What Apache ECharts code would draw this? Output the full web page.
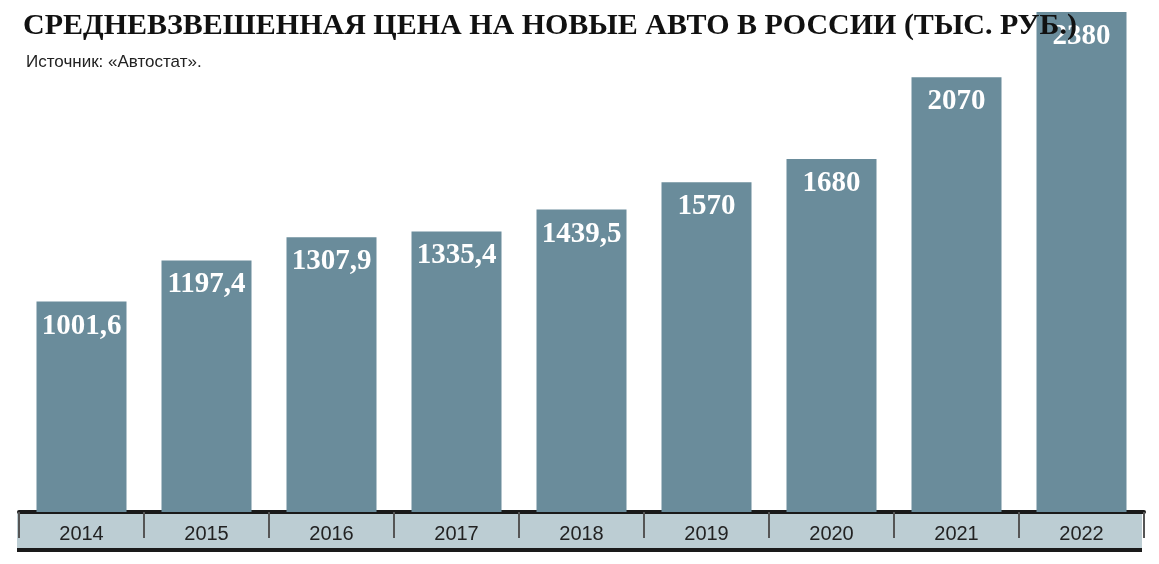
<!DOCTYPE html><html><head><meta charset="utf-8"><script src="https://cdn.jsdelivr.net/npm/echarts@6/dist/echarts.min.js"></script>
<style>body{margin:0;background:#fff}#c{width:1159px;height:564px}</style></head><body><div id="c"></div><script>
const years=['2014','2015','2016','2017','2018','2019','2020','2021','2022'];
const values=[1001.6,1197.4,1307.9,1335.4,1439.5,1570,1680,2070,2380];
const chart=echarts.init(document.getElementById('c'));
chart.setOption({
 animation:false,
 title:[{text:'СРЕДНЕВЗВЕШЕННАЯ ЦЕНА НА НОВЫЕ АВТО В РОССИИ (ТЫС. РУБ.)',left:18,top:6,textStyle:{fontFamily:'Liberation Sans Narrow',fontWeight:'bold',fontSize:30,color:'#111'}},
 {text:'Источник: «Автостат».',left:21,top:49,textStyle:{fontFamily:'Liberation Sans',fontWeight:'normal',fontSize:17,color:'#222'}}],
 grid:{left:19,right:15,top:12,bottom:52},
 graphic:[{type:'rect',z:-1,shape:{x:17,y:513,width:1125,height:37},style:{fill:'#bccdd3'}},
  {type:'rect',z:-1,shape:{x:17,y:548,width:1125,height:4},style:{fill:'#1a1a1a'}}],
 xAxis:{type:'category',data:years,axisLine:{lineStyle:{color:'#1a1a1a',width:4}},
  axisTick:{show:true,length:26,lineStyle:{color:'#555',width:2}},
  axisLabel:{margin:12,fontFamily:'Liberation Sans',fontSize:20,color:'#222'}},
 yAxis:{type:'value',min:0,max:2380,show:false,splitLine:{show:false}},
 series:[{type:'bar',data:values,barWidth:90,itemStyle:{color:'#6a8c9b'},
  label:{show:true,position:'insideTop',distance:10,color:'#fff',fontFamily:'Liberation Sans Narrow',fontWeight:'bold',fontSize:29,
   formatter:p=>String(p.value).replace('.',',')}}]
});
</script></body></html>
